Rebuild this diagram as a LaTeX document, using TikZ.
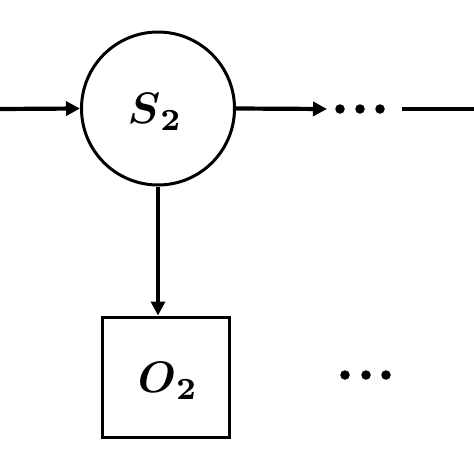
\documentclass[tikz,border=0pt]{standalone}
\usepackage{amsmath}
\usetikzlibrary{arrows.meta}
\tikzset{
  conn/.style={line width=4.2pt,-{Triangle[length=14pt,width=14pt]}},
  plain/.style={line width=4.2pt},
  dot/.style={circle,fill=black,inner sep=0pt,minimum size=9.5pt},
  state/.style={circle,draw,line width=3pt,minimum size=153pt,inner sep=0pt},
  obs/.style={rectangle,draw,line width=3pt,minimum width=127pt,minimum height=120pt,inner sep=0pt},
  lbl/.style={scale=4.4}
}
\begin{document}
\begin{tikzpicture}[x=1pt,y=-1pt]
\useasboundingbox[fill=white] (0,0) rectangle (474,474);
\node[state] (s2) at (158,108.5) {};
\node[lbl] (s2t) at (155,112) {$\boldsymbol{S}_{\mathbf{2}}$};
\node[obs] (o2) at (165.5,377) {};
\node[lbl] (o2t) at (168,381) {$\boldsymbol{O}_{\mathbf{2}}$};
\coordinate (lin) at (0,109);
\coordinate (rout) at (327,109);
\coordinate (ra) at (402,109);
\coordinate (rb) at (474,109);
\node[dot] (d1) at (340,109) {};
\node[dot] (d2) at (360,109) {};
\node[dot] (d3) at (380,109) {};
\node[dot] (e1) at (345,375) {};
\node[dot] (e2) at (366,375) {};
\node[dot] (e3) at (386,375) {};
\draw[conn] (lin) -- (s2.west);
\draw[conn] (s2.east) -- (rout);
\draw[plain] (ra) -- (rb);
\draw[conn] (s2.south) -- (s2.south |- o2.north);
\end{tikzpicture}
\end{document}
